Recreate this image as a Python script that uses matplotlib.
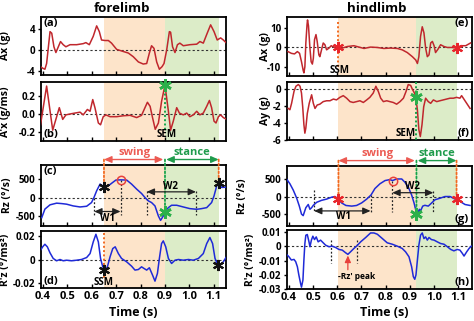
import matplotlib
matplotlib.use("Agg")
import matplotlib.pyplot as plt

# ---------------- gait phase boundaries (s) ----------------
FORE_SSM, FORE_SEM, FORE_END = 0.65, 0.90, 1.12
HIND_SSM, HIND_SEM, HIND_END = 0.605, 0.928, 1.094

# ---------------- forelimb ----------------
fore_ax_t = [0.390, 0.399, 0.408, 0.415, 0.429, 0.436, 0.445, 0.453, 0.463, 0.472,
             0.483, 0.494, 0.511, 0.538, 0.565, 0.576, 0.590, 0.606, 0.620, 0.631,
             0.640, 0.654, 0.668, 0.681, 0.702, 0.729, 0.750, 0.770, 0.791, 0.811,
             0.825, 0.836, 0.845, 0.855, 0.866, 0.877, 0.888, 0.896, 0.907, 0.918,
             0.923, 0.931, 0.941, 0.951, 0.961, 0.975, 1.002, 1.030, 1.043, 1.057,
             1.073, 1.087, 1.101, 1.114, 1.128, 1.139, 1.150]
fore_ax = [-3.2, -3.5, -3.7, -2.6, 3.5, 3.2, 0.6, -0.5, 0.6, 1.6,
           1.0, 0.6, 1.0, 1.0, 1.2, 1.4, 1.0, 2.6, 4.6, 3.5,
           1.9, 1.8, 1.8, 1.3, 0.1, -0.3, -0.6, -1.3, -2.3, -2.7,
           -2.6, -0.6, 0.8, 0.3, -2.3, -3.7, -3.2, -2.6, 0.0, 3.5,
           3.4, 0.6, -0.5, 1.0, 1.3, 0.8, 1.0, 1.1, 1.6, 1.3,
           3.2, 4.8, 3.5, 1.9, 2.3, 1.9, 1.4]

fore_dax_t = [0.390, 0.415, 0.440, 0.467, 0.481, 0.494, 0.511, 0.531, 0.552, 0.565,
              0.582, 0.593, 0.604, 0.613, 0.627, 0.636, 0.647, 0.658, 0.675, 0.702,
              0.729, 0.757, 0.784, 0.804, 0.818, 0.828, 0.839, 0.849, 0.860, 0.873,
              0.886, 0.900, 0.914, 0.923, 0.934, 0.948, 0.959, 0.975, 0.989, 1.002,
              1.016, 1.030, 1.043, 1.057, 1.071, 1.082, 1.091, 1.101, 1.109, 1.119,
              1.128, 1.139, 1.153]
fore_dax = [-0.12, 0.31, -0.18, 0.07, -0.06, -0.01, 0.0, 0.01, 0.02, -0.01,
            0.05, 0.03, 0.16, 0.07, -0.10, -0.12, -0.03, -0.01, -0.03, -0.03,
            -0.02, -0.015, -0.04, -0.015, 0.07, 0.13, 0.085, -0.04, -0.17, -0.10,
            0.14, 0.32, 0.03, -0.18, -0.08, 0.07, 0.01, -0.01, 0.01, -0.03,
            -0.01, 0.03, -0.01, 0.01, 0.085, 0.15, 0.07, -0.08, -0.10, -0.03,
            -0.01, -0.04, -0.06]

fore_rz_t = [0.395, 0.408, 0.429, 0.456, 0.477, 0.497, 0.524, 0.552, 0.579, 0.599,
             0.609, 0.620, 0.634, 0.651, 0.668, 0.686, 0.699, 0.718, 0.743, 0.763,
             0.784, 0.804, 0.818, 0.832, 0.845, 0.859, 0.873, 0.882, 0.893, 0.900,
             0.914, 0.927, 0.948, 0.975, 1.002, 1.030, 1.050, 1.071, 1.091, 1.101,
             1.112, 1.120, 1.132, 1.153]
fore_rz = [-545, -313, -197, -152, -164, -180, -227, -255, -236, -136,
           0, 182, 364, 289, 318, 409, 473, 478, 473, 364,
           227, 109, 0, -91, -136, -227, -500, -618, -500, -378,
           -273, -209, -209, -255, -300, -318, -300, -273, -136, 45,
           318, 382, 273, 280]

fore_drz_t = [0.390, 0.399, 0.408, 0.418, 0.429, 0.442, 0.456, 0.470, 0.483, 0.497,
              0.517, 0.538, 0.558, 0.579, 0.593, 0.606, 0.617, 0.627, 0.636, 0.645,
              0.654, 0.664, 0.675, 0.686, 0.696, 0.709, 0.722, 0.743, 0.763, 0.777,
              0.791, 0.804, 0.814, 0.825, 0.836, 0.849, 0.859, 0.869, 0.877, 0.886,
              0.893, 0.903, 0.914, 0.927, 0.941, 0.955, 0.975, 0.996, 1.016, 1.037,
              1.057, 1.071, 1.084, 1.095, 1.105, 1.114, 1.123, 1.136, 1.150]
fore_drz = [0.008, 0.0109, 0.0131, 0.0109, 0.0057, 0.0009, -0.0011, 0.0, -0.0011, -0.0006,
            -0.0011, -0.0006, 0.0, 0.0017, 0.0051, 0.0151, 0.0217, 0.0151, 0.0009, -0.0063,
            -0.0091, -0.0063, 0.0023, 0.0094, 0.0109, 0.0051, 0.0009, -0.002, -0.0057, -0.0091,
            -0.0086, -0.0063, -0.0077, -0.0091, -0.0071, -0.0134, -0.0186, -0.012, 0.0009, 0.0137,
            0.016, 0.0109, 0.0009, -0.0034, -0.0006, 0.0, -0.0006, 0.0, -0.0006, 0.0009,
            0.0051, 0.0137, 0.0189, 0.0137, 0.0009, -0.0034, -0.0049, -0.0029, 0.0017]

# event markers (forelimb)
fore_sem_peak = (0.90, 0.32)
fore_rz_stars_t = [0.651, 1.12]
fore_rz_stars_v = [289, 382]
fore_rz_peak = (0.718, 478)
fore_rz_sem = (0.90, -378)
fore_drz_stars_t = [0.651, 1.119]
fore_drz_stars_v = [-0.0086, -0.0045]
fore_w1 = (0.61, 0.718)
fore_w2 = (0.825, 1.027)

# ---------------- hindlimb ----------------
hind_ax_t = [0.396, 0.410, 0.423, 0.435, 0.444, 0.452, 0.459, 0.462, 0.466, 0.470,
             0.475, 0.477, 0.481, 0.487, 0.492, 0.497, 0.501, 0.506, 0.512, 0.517,
             0.524, 0.528, 0.535, 0.542, 0.549, 0.556, 0.566, 0.575, 0.586, 0.600,
             0.621, 0.642, 0.669, 0.690, 0.711, 0.738, 0.766, 0.793, 0.821, 0.849,
             0.869, 0.890, 0.911, 0.925, 0.932, 0.938, 0.945, 0.952, 0.959, 0.966,
             0.973, 0.980, 0.987, 0.994, 1.001, 1.007, 1.017, 1.028, 1.042, 1.056,
             1.077, 1.094, 1.111, 1.132, 1.152]
hind_ax = [-2.1, -3.0, -3.3, -2.1, -3.0, -7.3, -11.7, -13.0, -9.9, 2.3,
           11.8, 14.1, 11.0, -0.5, -7.3, -8.5, -5.6, 4.0, 6.6, 3.1,
           -3.8, -4.7, -1.2, 2.3, 1.4, -1.2, -0.3, 0.9, 0.2, 0.0,
           -0.3, 0.5, 0.9, 0.2, -0.5, 0.2, 0.0, -0.5, -0.3, -0.5,
           -1.2, -2.6, -4.7, -6.4, -8.2, -4.7, 5.7, 10.6, 7.5, -0.3,
           -4.7, -3.8, 2.3, 3.1, 0.9, -2.6, -0.9, 1.4, 0.5, 0.0,
           0.0, -0.3, 0.9, 0.9, 2.3]

hind_ay_t = [0.397, 0.404, 0.411, 0.421, 0.429, 0.439, 0.446, 0.452, 0.457, 0.462,
             0.466, 0.470, 0.476, 0.484, 0.494, 0.501, 0.508, 0.517, 0.528, 0.542,
             0.556, 0.570, 0.584, 0.597, 0.611, 0.625, 0.639, 0.653, 0.666, 0.680,
             0.694, 0.708, 0.722, 0.735, 0.749, 0.760, 0.770, 0.780, 0.791, 0.805,
             0.818, 0.832, 0.846, 0.860, 0.874, 0.885, 0.894, 0.904, 0.912, 0.918,
             0.925, 0.932, 0.938, 0.944, 0.951, 0.958, 0.966, 0.977, 0.987, 0.998,
             1.012, 1.025, 1.039, 1.053, 1.067, 1.081, 1.094, 1.108, 1.115, 1.122,
             1.136, 1.150]
hind_ay = [-2.3, -2.45, -1.7, -0.3, 0.3, 0.5, 0.3, -0.5, -2.1, -4.2,
           -5.2, -4.6, -2.9, -1.7, -0.7, -1.7, -2.3, -1.9, -1.8, -1.5,
           -1.4, -1.4, -1.2, -1.3, -1.0, -0.8, -1.1, -1.5, -1.6, -1.5,
           -1.4, -1.6, -1.3, -1.0, -0.5, 0.3, -0.3, -1.1, -1.5, -1.4,
           -1.5, -1.6, -1.8, -1.5, -1.1, -0.3, 0.5, 0.4, -0.1, -0.4,
           -0.9, -2.5, -4.8, -5.6, -4.2, -2.1, -1.1, -1.5, -1.7, -1.3,
           -1.5, -1.4, -1.3, -1.2, -1.1, -1.1, -1.0, -1.1, -0.8, -1.1,
           -1.7, -2.3]

hind_rz_t = [0.390, 0.404, 0.418, 0.432, 0.443, 0.452, 0.459, 0.470, 0.480, 0.487,
             0.494, 0.501, 0.515, 0.535, 0.556, 0.577, 0.591, 0.604, 0.618, 0.636,
             0.660, 0.680, 0.701, 0.722, 0.740, 0.756, 0.777, 0.798, 0.818, 0.829,
             0.846, 0.867, 0.880, 0.894, 0.908, 0.918, 0.926, 0.932, 0.940, 0.945,
             0.954, 0.963, 0.977, 0.991, 1.005, 1.025, 1.046, 1.067, 1.088, 1.108,
             1.129, 1.150]
hind_rz = [500, 364, 182, -45, -273, -500, -545, -318, -227, -364,
           -318, -250, -164, -109, -73, -18, 0, -73, -182, -255,
           -273, -255, -182, -73, 45, 227, 364, 455, 482, 455,
           500, 500, 409, 273, 45, -182, -409, -500, -364, -409,
           -273, -250, -273, -182, -91, -50, 0, 0, -73, -136,
           -227, -255]

hind_drz_t = [0.393, 0.400, 0.410, 0.421, 0.428, 0.435, 0.441, 0.448, 0.452, 0.458,
              0.462, 0.466, 0.470, 0.476, 0.483, 0.487, 0.493, 0.499, 0.506, 0.513,
              0.521, 0.531, 0.542, 0.552, 0.566, 0.579, 0.593, 0.607, 0.621, 0.635,
              0.644, 0.655, 0.669, 0.680, 0.697, 0.718, 0.738, 0.752, 0.766, 0.787,
              0.807, 0.828, 0.849, 0.869, 0.883, 0.897, 0.908, 0.915, 0.921, 0.926,
              0.932, 0.938, 0.945, 0.952, 0.959, 0.966, 0.973, 0.980, 0.990, 1.001,
              1.014, 1.028, 1.042, 1.056, 1.070, 1.083, 1.097, 1.108, 1.118, 1.125,
              1.136, 1.146, 1.155]
hind_drz = [-0.0061, -0.0073, -0.0096, -0.0092, -0.0108, -0.0144, -0.0202, -0.0261, -0.0289, -0.0238,
            -0.0096, 0.0021, 0.0080, 0.0085, 0.0033, -0.0002, 0.0045, 0.0073, 0.0049, 0.0068,
            0.0033, 0.0045, 0.0026, 0.0009, -0.0002, 0.0002, -0.0007, -0.0021, -0.0026, -0.0045,
            -0.0056, -0.0038, -0.0014, 0.0002, 0.0033, 0.0064, 0.0096, 0.0096, 0.0087, 0.0056,
            0.0026, 0.0016, 0.0002, -0.0014, -0.0038, -0.0073, -0.0144, -0.0214, -0.0233, -0.0202,
            -0.0096, 0.0009, 0.0080, 0.0096, 0.0056, 0.0068, 0.0045, 0.0064, 0.0049, 0.0045,
            0.0033, 0.0021, 0.0016, -0.0002, -0.0021, -0.0031, -0.0021, -0.0026, -0.0049, -0.0068,
            -0.0038, -0.0014, 0.0002]

# event markers (hindlimb)
hind_ax_stars_t = [0.605, 1.094]
hind_ax_stars_v = [0.0, -0.3]
hind_ay_sem = (0.928, -0.9)
hind_rz_stars_t = [0.605, 1.094]
hind_rz_stars_v = [-73, -60]
hind_rz_peak = (0.829, 455)
hind_rz_sem = (0.928, -500)
hind_w1 = (0.504, 0.738)
hind_w2 = (0.828, 0.998)
hind_drz_peak = (0.644, -0.0056)
hind_drz_window = (0.573, 0.683)

time_ticks = [0.4, 0.5, 0.6, 0.7, 0.8, 0.9, 1.0, 1.1]

# ---------------- style ----------------
plt.rcParams["font.family"] = ["Open Sans", "DejaVu Sans"]
plt.rcParams["font.weight"] = "bold"
plt.rcParams["axes.labelweight"] = "bold"

RED = "#c0272d"
BLUE = "#1f2ad8"
ORANGE_BG = "#fde4ca"
GREEN_BG = "#dcecc8"
SWING = "#ec5a52"
STANCE = "#1f9b4c"
SSM_C = "#f26a21"
SEM_C = "#17a34a"
STAR_G = "#2bb04a"

W, H = 474, 321
fig = plt.figure(figsize=(W / 100, H / 100), dpi=100)

LEFT_X = (41, 226)
RIGHT_X = (287, 472)


def panel(xs, y0, y1):
    x0, x1 = xs
    return fig.add_axes([x0 / W, 1 - y1 / H, (x1 - x0) / W, (y1 - y0) / H])


def setup(ax, xlim, ylim, yticks, ylabels, ylabel, label_px, xs, bottom, phases):
    ax.set_xlim(*xlim)
    ax.set_ylim(*ylim)
    ax.set_xticks(time_ticks)
    ax.set_xticklabels([f"{t:.1f}" for t in time_ticks])
    ax.set_yticks(yticks)
    ax.set_yticklabels(ylabels)
    ax.tick_params(axis="x", direction="in", length=3, width=1, labelsize=8,
                   pad=2.5, labelbottom=bottom)
    ax.tick_params(axis="y", direction="out", length=2.5, width=1, labelsize=7, pad=1.5)
    for s in ax.spines.values():
        s.set_linewidth(1.3)
    ax.set_ylabel(ylabel, fontsize=7.5)
    ax.yaxis.set_label_coords((label_px - xs[0]) / (xs[1] - xs[0]), 0.5)
    ssm, sem, end = phases
    ax.axvspan(ssm, sem, color=ORANGE_BG, lw=0, zorder=0)
    ax.axvspan(sem, end, color=GREEN_BG, lw=0, zorder=0)
    ax.axhline(0, color="#333333", lw=0.8, ls=(0, (2, 2)), zorder=1)


def star(ax, x, y, color, size=8, mew=1.5):
    ax.plot(x, y, ls="none", marker=(6, 2, 0), ms=size, mew=mew, color=color,
            zorder=6, clip_on=False)


def vdotted(ax, x, y_axes_top, y_data, color, lw=1.3):
    ax.annotate("", xy=(x, y_data), xycoords="data",
                xytext=(x, y_axes_top), textcoords=ax.get_xaxis_transform(),
                arrowprops=dict(arrowstyle="-", ls=(0, (1, 1.2)), color=color, lw=lw,
                                shrinkA=0, shrinkB=0),
                annotation_clip=False)


def harrow(ax, x1, x2, y, color, coords="axes", lw=1.0):
    xyc = ax.get_xaxis_transform() if coords == "axes" else "data"
    ax.annotate("", xy=(x2, y), xytext=(x1, y), xycoords=xyc, textcoords=xyc,
                arrowprops=dict(arrowstyle="<|-|>,head_length=0.45,head_width=0.2",
                                color=color, lw=lw, shrinkA=0, shrinkB=0),
                annotation_clip=False)


def phase_header(ax, ssm, sem, end, ya=1.09, yt=1.21):
    harrow(ax, ssm, sem - 0.007, ya, SWING)
    harrow(ax, sem + 0.005, end, ya, STANCE)
    ax.text((ssm + sem) / 2, yt, "swing", transform=ax.get_xaxis_transform(),
            color=SWING, fontsize=8, ha="center", va="center")
    ax.text((sem + end) / 2, yt, "stance", transform=ax.get_xaxis_transform(),
            color=STANCE, fontsize=8, ha="center", va="center")


def tag(ax, text, corner):
    x, ha = (0.015, "left") if "l" in corner else (0.985, "right")
    y, va = (0.985, "top") if "t" in corner else (0.02, "bottom")
    ax.text(x, y, text, transform=ax.transAxes, ha=ha, va=va, fontsize=8, zorder=7)


FORE_PH = (FORE_SSM, FORE_SEM, FORE_END)
HIND_PH = (HIND_SSM, HIND_SEM, HIND_END)
FX = (0.392, 1.15)
HX = (0.392, 1.158)

# ---------------- forelimb column ----------------
a = panel(LEFT_X, 17, 75)
setup(a, FX, (-4.8, 6.3), [-4, 0, 4], ["-4", "0", "4"], "Ax (g)", 11, LEFT_X, False, FORE_PH)
a.plot(fore_ax_t, fore_ax, color=RED, lw=1.1, zorder=3)
tag(a, "(a)", "tl")

b = panel(LEFT_X, 82, 141)
setup(b, FX, (-0.3, 0.355), [-0.2, 0.0, 0.2], ["-0.2", "0.0", "0.2"], "A'x (g/ms)", 11,
      LEFT_X, False, FORE_PH)
b.plot(fore_dax_t, fore_dax, color=RED, lw=1.1, zorder=3)
b.plot([fore_sem_peak[0]] * 2, [fore_sem_peak[1], -0.17], color=SEM_C, lw=1.4,
       ls=(0, (1, 1.2)), zorder=4)
star(b, *fore_sem_peak, STAR_G, size=9, mew=1.9)
b.text(FORE_SEM + 0.005, -0.225, "SEM", fontsize=7, ha="center", va="center", zorder=7)
tag(b, "(b)", "bl")

c = panel(LEFT_X, 165, 226)
setup(c, FX, (-770, 880), [-500, 0, 500], ["-500", "0", "500"], "Rz (°/s)", 13,
      LEFT_X, False, FORE_PH)
c.plot(fore_rz_t, fore_rz, color=BLUE, lw=1.1, zorder=3)
phase_header(c, *FORE_PH)
vdotted(c, FORE_SSM, 1.09, fore_rz_stars_v[0], SSM_C)
vdotted(c, FORE_END, 1.09, fore_rz_stars_v[1], SSM_C)
vdotted(c, FORE_SEM, 1.09, fore_rz_sem[1], SEM_C)
for x, top in [(fore_w1[0], 0), (fore_w1[1], fore_rz_peak[1]),
               (fore_w2[0], 180), (fore_w2[1], 180)]:
    c.plot([x, x], [top, -470], color="#222222", lw=0.9, ls=(0, (1.5, 1.5)), zorder=2)
harrow(c, fore_w1[0], fore_w1[1], -378, "#222222", coords="data", lw=0.9)
harrow(c, fore_w2[0], fore_w2[1], 154, "#222222", coords="data", lw=0.9)
c.text(sum(fore_w1) / 2, -560, "W1", fontsize=7, ha="center", va="center", zorder=7)
c.text(sum(fore_w2) / 2 - 0.005, 300, "W2", fontsize=7, ha="center", va="center", zorder=7)
star(c, fore_rz_stars_t, fore_rz_stars_v, "#111111")
c.plot(*fore_rz_peak, ls="none", marker="o", ms=6, mfc="none", mec="#e8403a", mew=1.1, zorder=6)
star(c, *fore_rz_sem, STAR_G, size=9, mew=1.9)
tag(c, "(c)", "tl")

d = panel(LEFT_X, 231, 288)
setup(d, FX, (-0.0245, 0.0245), [-0.02, 0, 0.02], ["-0.02", "0", "0.02"], "R'z (°/ms²)", 11,
      LEFT_X, True, FORE_PH)
d.plot(fore_drz_t, fore_drz, color=BLUE, lw=1.1, zorder=3)
d.plot([FORE_SSM, FORE_SSM], [0.023, -0.016], color=SSM_C, lw=1.4, ls=(0, (1, 1.2)), zorder=4)
star(d, fore_drz_stars_t, fore_drz_stars_v, "#111111")
d.text(FORE_SSM, -0.0195, "SSM", fontsize=7, ha="center", va="center", zorder=7)
tag(d, "(d)", "bl")

# ---------------- hindlimb column ----------------
e = panel(RIGHT_X, 17, 76)
setup(e, HX, (-14.6, 15.6), [-10, 0, 10], ["-10", "0", "10"], "Ax (g)", 271, RIGHT_X, False, HIND_PH)
e.plot(hind_ax_t, hind_ax, color=RED, lw=1.1, zorder=3)
e.plot([HIND_SSM, HIND_SSM], [13.0, -10.0], color=SSM_C, lw=1.4, ls=(0, (1, 1.2)), zorder=4)
star(e, hind_ax_stars_t, hind_ax_stars_v, "#e8262c")
e.text(HIND_SSM + 0.006, -12.0, "SSM", fontsize=7, ha="center", va="center", zorder=7)
tag(e, "(e)", "tr")

f = panel(RIGHT_X, 82, 140)
setup(f, HX, (-6.0, 0.8), [-6, -4, -2, 0], ["-6", "-4", "-2", "0"], "Ay (g)", 271,
      RIGHT_X, False, HIND_PH)
f.plot(hind_ay_t, hind_ay, color=RED, lw=1.1, zorder=3)
f.plot([HIND_SEM, HIND_SEM], [0.8, -6.0], color=SEM_C, lw=1.4, ls=(0, (1, 1.2)), zorder=4)
star(f, *hind_ay_sem, STAR_G, size=9, mew=1.9)
f.text(HIND_SEM - 0.003, -5.2, "SEM", fontsize=7, ha="right", va="center", zorder=7)
tag(f, "(f)", "br")

g = panel(RIGHT_X, 166, 226)
setup(g, HX, (-840, 870), [-500, 0, 500], ["-500", "0", "500"], "Rz (°/s)", 248,
      RIGHT_X, False, HIND_PH)
g.plot(hind_rz_t, hind_rz, color=BLUE, lw=1.1, zorder=3)
phase_header(g, *HIND_PH)
vdotted(g, HIND_SSM, 1.09, hind_rz_stars_v[0], SSM_C)
vdotted(g, HIND_END, 1.09, hind_rz_stars_v[1], SSM_C)
vdotted(g, HIND_SEM, 1.09, hind_rz_sem[1], SEM_C)
for x, top in [(hind_w1[0], 182), (hind_w1[1], 45),
               (hind_w2[0], hind_rz_peak[1]), (hind_w2[1], 150)]:
    g.plot([x, x], [top, -430], color="#222222", lw=0.9, ls=(0, (1.5, 1.5)), zorder=2)
harrow(g, hind_w1[0], hind_w1[1], -410, "#222222", coords="data", lw=0.9)
harrow(g, hind_w2[0], hind_w2[1], 109, "#222222", coords="data", lw=0.9)
g.text(0.628, -560, "W1", fontsize=7, ha="center", va="center", zorder=7)
g.text(sum(hind_w2) / 2, 280, "W2", fontsize=7, ha="center", va="center", zorder=7)
star(g, hind_rz_stars_t, hind_rz_stars_v, "#e8262c")
g.plot(*hind_rz_peak, ls="none", marker="o", ms=6, mfc="none", mec="#e8403a", mew=1.1, zorder=6)
star(g, *hind_rz_sem, STAR_G, size=9, mew=1.9)
tag(g, "(g)", "br")

h = panel(RIGHT_X, 230, 289)
setup(h, HX, (-0.0302, 0.0117), [-0.03, -0.02, -0.01, 0, 0.01],
      ["-0.03", "-0.02", "-0.01", "0", "0.01"], "R'z (°/ms²)", 256, RIGHT_X, True, HIND_PH)
h.plot(hind_drz_t, hind_drz, color=BLUE, lw=1.1, zorder=3)
for x in hind_drz_window:
    h.plot([x, x], [0.0045, -0.012], color="#222222", lw=0.9, ls=(0, (1.5, 1.5)), zorder=2)
h.annotate("", xy=(hind_drz_peak[0], hind_drz_peak[1] - 0.0008),
           xytext=(hind_drz_peak[0], -0.0165),
           arrowprops=dict(arrowstyle="-|>,head_length=0.4,head_width=0.18",
                           color="#e8403a", lw=0.9, shrinkA=0, shrinkB=0))
h.text(0.679, -0.021, "-Rz' peak", fontsize=6, ha="center", va="center", zorder=7)
tag(h, "(h)", "br")

# ---------------- headings ----------------
fig.text(122 / W, 1 - 8 / H, "forelimb", fontsize=9.5, ha="center", va="center")
fig.text(377 / W, 1 - 8 / H, "hindlimb", fontsize=9.5, ha="center", va="center")
fig.text(133 / W, 1 - 313 / H, "Time (s)", fontsize=9, ha="center", va="center")
fig.text(384 / W, 1 - 313 / H, "Time (s)", fontsize=9, ha="center", va="center")

fig.savefig("out.png", dpi=100)
